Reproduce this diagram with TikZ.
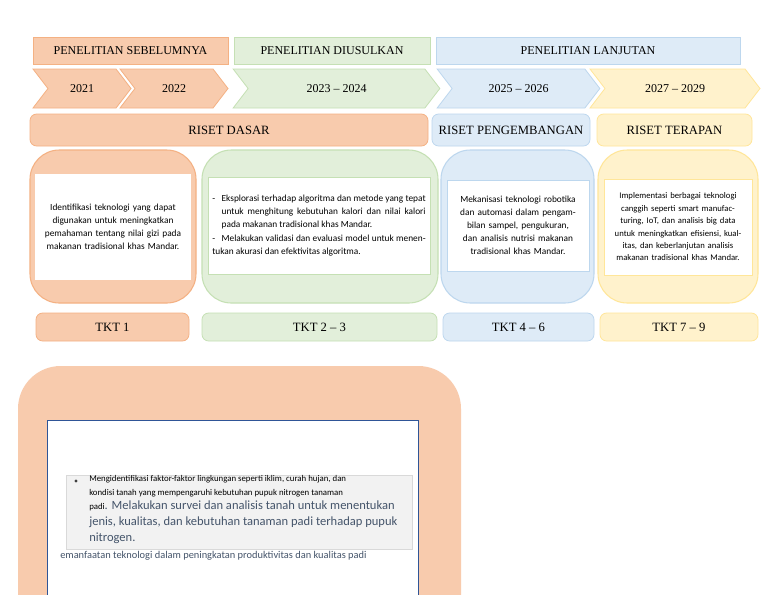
\documentclass[tikz,border=0pt]{standalone}
\usepackage{fontspec}
\setmainfont{Liberation Serif}
\newfontfamily\calfont{Carlito}
\usetikzlibrary{shapes.symbols}
\definecolor{oF}{HTML}{F8CBAD}\definecolor{oB}{HTML}{F4B183}
\definecolor{gF}{HTML}{E2EFDA}\definecolor{gB}{HTML}{C5E0B4}
\definecolor{bF}{HTML}{DEEBF7}\definecolor{bB}{HTML}{BDD7EE}
\definecolor{yF}{HTML}{FFF2CC}\definecolor{yB}{HTML}{FFE699}
\definecolor{navy}{HTML}{2F5597}\definecolor{txt}{HTML}{44546A}
\tikzset{
 hdr/.style={draw=#1B,fill=#1F,line width=0.6pt,inner sep=0pt,font=\fontsize{9}{10}\selectfont},
 chev/.style={shape=signal,signal to=east,signal from=west,signal pointer angle=105,draw=#1B,fill=#1F,line width=0.6pt,minimum height=29.25pt,inner sep=0pt,font=\fontsize{9}{10}\selectfont},
 riset/.style={draw=#1B,fill=#1F,rounded corners=5pt,line width=0.6pt,font=\fontsize{9.5}{10}\selectfont},
 big/.style={draw=#1B,fill=#1F,rounded corners=22pt,line width=0.8pt},
 innerbox/.style={draw=#1B,fill=white,line width=0.5pt},
 innertext/.style={align=center,font=\calfont\fontsize{7}{9.8}\selectfont},
}
\begin{document}
\begin{tikzpicture}[x=0.75pt,y=-0.75pt]
\useasboundingbox (0,0) rectangle (768,594);
\fill[white] (0,0) rectangle (768,594);
% headers
\draw[hdr=o] (33,37) rectangle node (h1) {PENELITIAN SEBELUMNYA} (228,64);
\draw[hdr=g] (234,37) rectangle node (h2) {PENELITIAN DIUSULKAN} (430,64);
\draw[hdr=b] (436,37) rectangle node (h3) {PENELITIAN LANJUTAN} (740,64);
% chevrons
\node[chev=o,minimum width=73.5pt] (c1) at (82,88.5) {2021};
\node[chev=o,minimum width=81pt] (c2) at (174,88.5) {2022};
\node[chev=g,minimum width=155pt] (c3) at (336.5,88.5) {2023 -- 2024};
\node[chev=b,minimum width=122pt] (c4) at (518.5,88.5) {2025 -- 2026};
\node[chev=y,minimum width=127.5pt] (c5) at (675,88.5) {2027 -- 2029};
% riset
\draw[riset=o] (30,114) rectangle node (r1) {RISET DASAR} (428,146);
\draw[riset=b] (432,114) rectangle node (r2) {RISET PENGEMBANGAN} (590,146);
\draw[riset=y] (597,114) rectangle node (r3) {RISET TERAPAN} (752,146);
% big boxes
\draw[big=o] (30,150) rectangle (196,303);
\draw[big=g] (202,150) rectangle (438,303);
\draw[big=b] (441,150) rectangle (594,303);
\draw[big=y] (598,150) rectangle (758,303);
\draw[fill=white,draw=none] (35,174) rectangle (191,280);
\node[innertext,text width=105pt] (t1) at (113,227) {Identifikasi teknologi yang dapat digunakan untuk meningkatkan pemahaman tentang nilai gizi pada makanan tradisional khas Mandar.};
\draw[innerbox=g] (208,177) rectangle (430,274);
\node[innertext,text width=160pt,align=justify] (t2) at (319,225.5) {%
\hangindent=7pt\hangafter=1\makebox[7pt][l]{-}Eksplorasi terhadap algoritma dan metode yang tepat untuk menghitung kebutuhan kalori dan nilai kalori pada makanan tradisional khas Mandar.\par
\hangindent=7pt\hangafter=1\makebox[7pt][l]{-}Melakukan validasi dan evaluasi model untuk menentukan akurasi dan efektivitas algoritma.};
\draw[innerbox=b] (447,180) rectangle (589,271);
\node[innertext,text width=100pt] (t3) at (518,225.5) {Mekanisasi teknologi robotika dan automasi dalam pengambilan sampel, pengukuran, dan analisis nutrisi makanan tradisional khas Mandar.};
\draw[innerbox=y] (604,179) rectangle (752,275);
\node[innertext,text width=108pt,font=\calfont\fontsize{6.5}{9.3}\selectfont] (t4) at (678,227) {Implementasi berbagai teknologi canggih seperti smart manufacturing, IoT, dan analisis big data untuk meningkatkan efisiensi, kualitas, dan keberlanjutan analisis makanan tradisional khas Mandar.};
% TKT
\draw[riset=o] (36,313) rectangle node (k1) {TKT 1} (189,341);
\draw[riset=g] (202,313) rectangle node (k2) {TKT 2 -- 3} (437,341);
\draw[riset=b] (443,313) rectangle node (k3) {TKT 4 -- 6} (594,341);
\draw[riset=y] (600,313) rectangle node (k4) {TKT 7 -- 9} (758,341);
% bottom
\draw[fill=oF,draw=none,rounded corners=32pt] (18,366) rectangle (461,640);
\draw[navy,fill=white,line width=0.6pt] (47,420) rectangle (418,620);
\draw[fill=black!5,draw=black!15,line width=0.5pt] (66,475) rectangle (412,549);
\node[circle,fill=black!75,inner sep=0.9pt] (bul) at (76,481) {};
\node[anchor=north west,inner sep=0pt,align=left,font=\calfont\fontsize{6.6}{10.3}\selectfont] (b1) at (89,475.5) {Mengidentifikasi faktor-faktor lingkungan seperti iklim, curah hujan, dan\\kondisi tanah yang mempengaruhi kebutuhan pupuk nitrogen tanaman};
\node[anchor=north west,inner sep=0pt,align=left,font=\calfont\fontsize{9.4}{12}\selectfont,text=txt] (b2) at (89,500.5) {{\fontsize{6.6}{8}\selectfont\color{black}padi}. Melakukan survei dan analisis tanah untuk menentukan\\jenis, kualitas, dan kebutuhan tanaman padi terhadap pupuk\\nitrogen.};
\node[anchor=north west,inner sep=0pt,font=\calfont\fontsize{7.8}{9}\selectfont,text=txt] (b3) at (60,551) {emanfaatan teknologi dalam peningkatan produktivitas dan kualitas padi};
\end{tikzpicture}
\end{document}
